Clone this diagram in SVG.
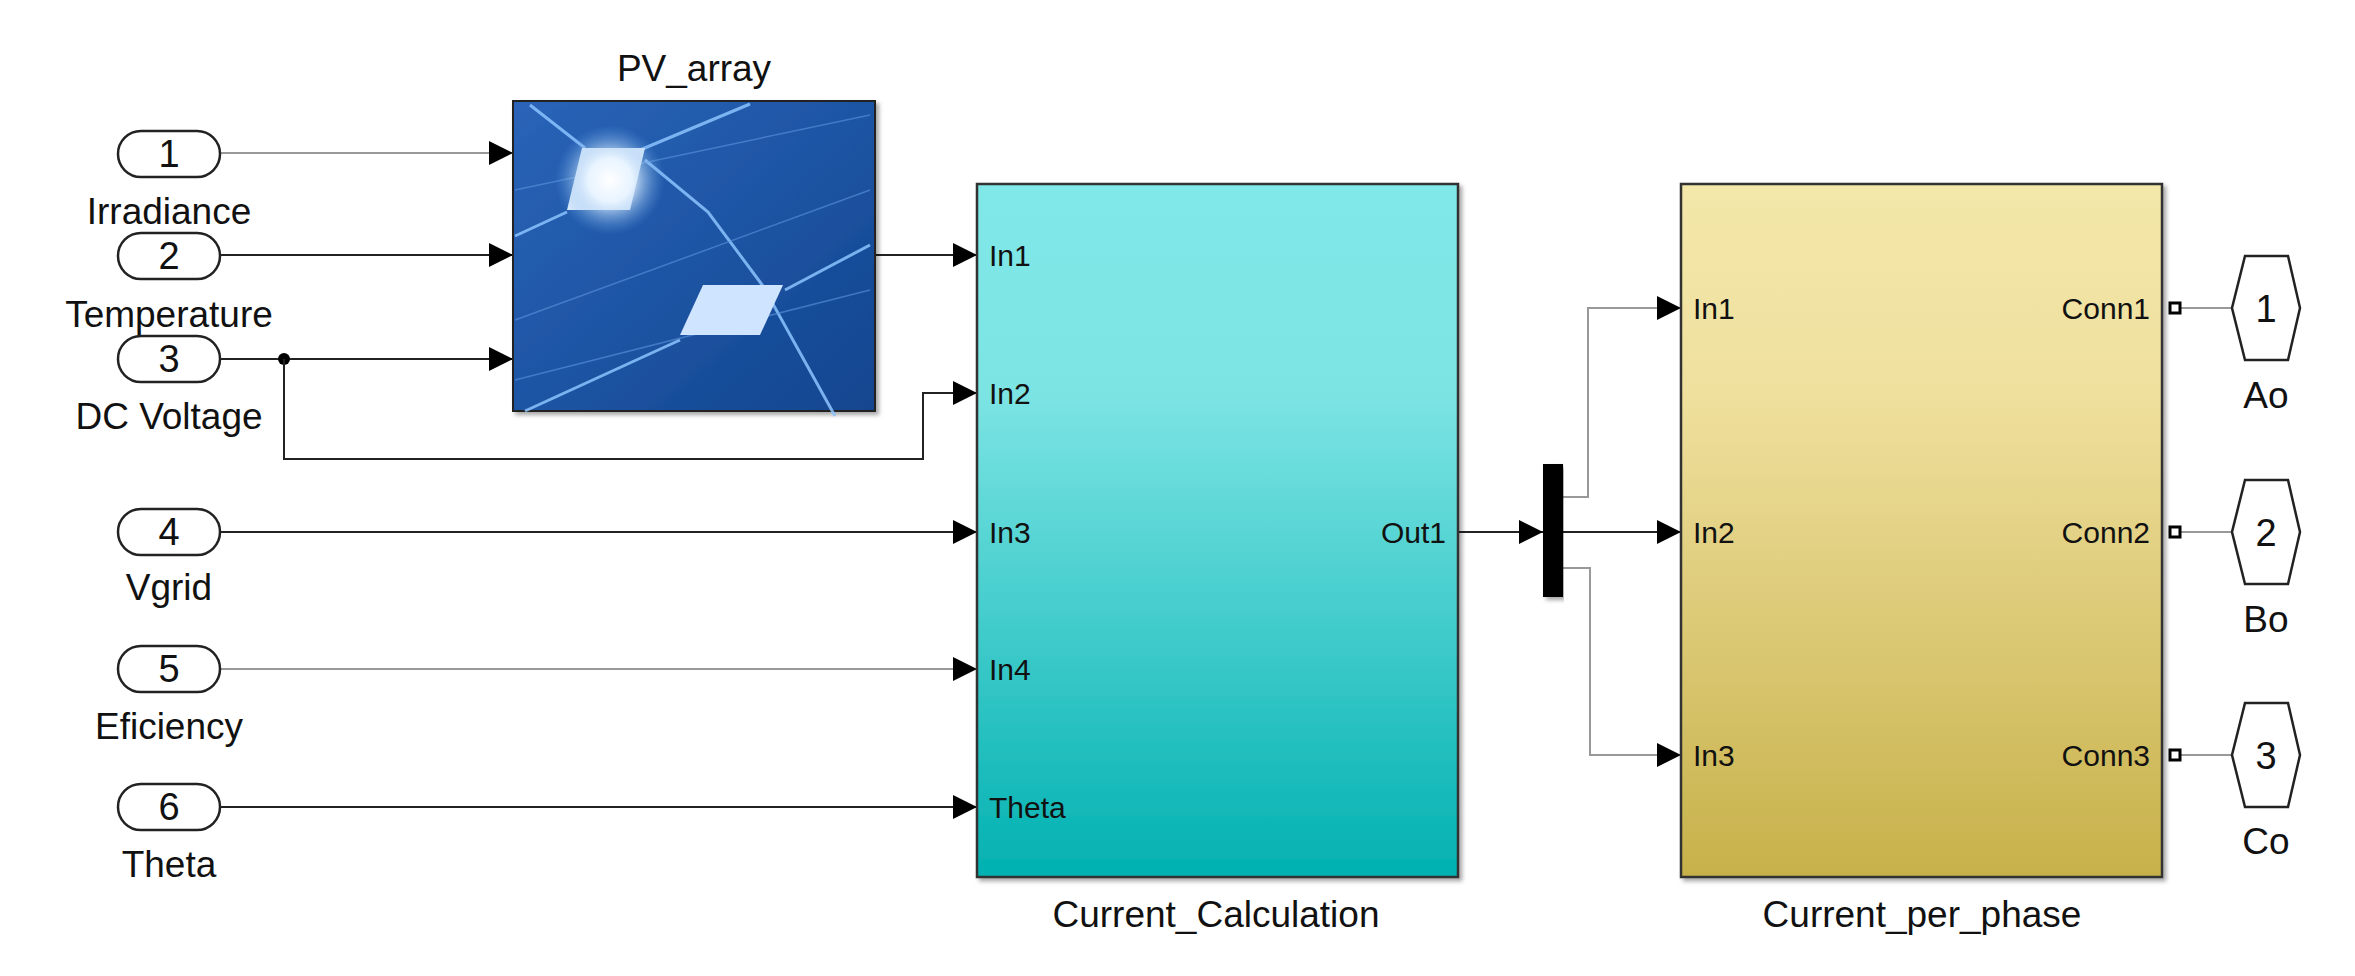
<svg xmlns="http://www.w3.org/2000/svg" width="2355" height="976" viewBox="0 0 2355 976">
<style>
text{font-family:"Liberation Sans",Arial,sans-serif;fill:#111}
.lbl{font-size:37px;text-anchor:middle}
.num{font-size:38px;text-anchor:middle}
.port{font-size:30px}
.pill{fill:#fff;stroke:#222;stroke-width:2.5}
.w{fill:none;stroke:#222;stroke-width:2}
.g{fill:none;stroke:#999;stroke-width:2}
</style>
<defs>
<marker id="a" markerWidth="10" markerHeight="10" refX="10" refY="5" orient="auto" markerUnits="userSpaceOnUse" viewBox="0 0 10 10"><path d="M0,0 L10,5 L0,10z" fill="#000"/></marker>
<marker id="A" viewBox="0 0 24 24" markerWidth="24" markerHeight="24" refX="24" refY="12" orient="auto" markerUnits="userSpaceOnUse"><path d="M0,0 L24,12 L0,24z" fill="#000"/></marker>
<linearGradient id="cc" x1="0" y1="0" x2="0" y2="1"><stop offset="0" stop-color="#80e8e8"/><stop offset="0.3" stop-color="#7de4e4"/><stop offset="1" stop-color="#02b1b1"/></linearGradient>
<linearGradient id="cp" x1="0" y1="0" x2="0" y2="1"><stop offset="0" stop-color="#f3e7a9"/><stop offset="0.3" stop-color="#efe09e"/><stop offset="1" stop-color="#c7b14a"/></linearGradient>
<linearGradient id="pv" x1="0" y1="0" x2="1" y2="1"><stop offset="0" stop-color="#2a64b8"/><stop offset="1" stop-color="#12458f"/></linearGradient>
<radialGradient id="sun"><stop offset="0" stop-color="#fff"/><stop offset="0.4" stop-color="#e8f4ff" stop-opacity="0.9"/><stop offset="1" stop-color="#5a9ae0" stop-opacity="0"/></radialGradient>
<filter id="sh" x="-5%" y="-5%" width="110%" height="110%"><feDropShadow dx="3" dy="3" stdDeviation="2" flood-color="#000" flood-opacity="0.35"/></filter>
</defs>

<g id="connectors">
<path class="g" d="M220,153 H513" marker-end="url(#A)"/>
<path class="w" d="M220,255 H513" marker-end="url(#A)"/>
<path class="w" d="M220,359 H513" marker-end="url(#A)"/>
<circle cx="284" cy="359" r="6" fill="#000"/>
<path class="w" d="M284,359 V459 H923 V393 H977" marker-end="url(#A)"/>
<path class="w" d="M875,255 H977" marker-end="url(#A)"/>
<path class="w" d="M220,532 H977" marker-end="url(#A)"/>
<path class="g" d="M220,669 H977" marker-end="url(#A)"/>
<path class="w" d="M220,807 H977" marker-end="url(#A)"/>
<path class="w" d="M1458,532 H1543" marker-end="url(#A)"/>
<path class="g" d="M1563,497 H1588 V308 H1681" marker-end="url(#A)"/>
<path class="w" d="M1563,532 H1681" marker-end="url(#A)"/>
<path class="g" d="M1563,568 H1590 V755 H1681" marker-end="url(#A)"/>
<path class="g" d="M2180,308 H2232"/>
<path class="g" d="M2180,532 H2232"/>
<path class="g" d="M2180,755 H2232"/>
</g>

<g id="in1"><rect class="pill" x="118" y="131" width="102" height="46" rx="23"/><text class="num" x="169" y="167">1</text><text class="lbl" x="169" y="224">Irradiance</text></g>
<g id="in2"><rect class="pill" x="118" y="233" width="102" height="46" rx="23"/><text class="num" x="169" y="269">2</text><text class="lbl" x="169" y="327">Temperature</text></g>
<g id="in3"><rect class="pill" x="118" y="336" width="102" height="46" rx="23"/><text class="num" x="169" y="372">3</text><text class="lbl" x="169" y="429">DC Voltage</text></g>
<g id="in4"><rect class="pill" x="118" y="509" width="102" height="46" rx="23"/><text class="num" x="169" y="545">4</text><text class="lbl" x="169" y="600">Vgrid</text></g>
<g id="in5"><rect class="pill" x="118" y="646" width="102" height="46" rx="23"/><text class="num" x="169" y="682">5</text><text class="lbl" x="169" y="739">Eficiency</text></g>
<g id="in6"><rect class="pill" x="118" y="784" width="102" height="46" rx="23"/><text class="num" x="169" y="820">6</text><text class="lbl" x="169" y="877">Theta</text></g>

<g id="pv_array">
<text class="lbl" x="694" y="81">PV_array</text>
<rect x="513" y="101" width="362" height="310" fill="url(#pv)" stroke="#222" stroke-width="2" filter="url(#sh)"/>
<g stroke="#8cc4ff" stroke-width="3" fill="none" opacity="0.85">
<path d="M530,105 L585,148"/><path d="M645,160 L708,212 L763,286 L835,416"/>
<path d="M515,236 L567,212"/><path d="M640,150 L750,104"/>
<path d="M680,340 L525,411"/><path d="M785,290 L870,245"/>
</g>
<g stroke="#5b95dd" stroke-width="1.5" opacity="0.6"><path d="M515,190 L870,115"/><path d="M515,320 L870,190"/><path d="M515,380 L870,290"/></g>
<path d="M582,148 L645,148 L630,210 L567,210z" fill="#e6f2ff"/>
<path d="M703,285 L783,285 L760,335 L680,335z" fill="#cfe4ff"/>
<circle cx="610" cy="180" r="55" fill="url(#sun)"/>
</g>

<g id="current_calculation">
<rect x="977" y="184" width="481" height="693" fill="url(#cc)" stroke="#333" stroke-width="2.5" filter="url(#sh)"/>
<text class="port" x="989" y="266">In1</text>
<text class="port" x="989" y="404">In2</text>
<text class="port" x="989" y="543">In3</text>
<text class="port" x="989" y="680">In4</text>
<text class="port" x="989" y="818">Theta</text>
<text class="port" x="1446" y="543" text-anchor="end">Out1</text>
<text class="lbl" x="1216" y="927">Current_Calculation</text>
</g>

<g id="mux"><rect x="1543" y="464" width="20" height="133" fill="#000" filter="url(#sh)"/></g>

<g id="current_per_phase">
<rect x="1681" y="184" width="481" height="693" fill="url(#cp)" stroke="#333" stroke-width="2.5" filter="url(#sh)"/>
<text class="port" x="1693" y="319">In1</text>
<text class="port" x="1693" y="543">In2</text>
<text class="port" x="1693" y="766">In3</text>
<text class="port" x="2150" y="319" text-anchor="end">Conn1</text>
<text class="port" x="2150" y="543" text-anchor="end">Conn2</text>
<text class="port" x="2150" y="766" text-anchor="end">Conn3</text>
<rect x="2170" y="303" width="10" height="10" fill="#fff" stroke="#000" stroke-width="3"/>
<rect x="2170" y="527" width="10" height="10" fill="#fff" stroke="#000" stroke-width="3"/>
<rect x="2170" y="750" width="10" height="10" fill="#fff" stroke="#000" stroke-width="3"/>
<text class="lbl" x="1922" y="927">Current_per_phase</text>
</g>

<g id="out1"><path class="pill" d="M2245,256 H2288 L2300,308 L2288,360 H2245 L2232,308z"/><text class="num" x="2266" y="322">1</text><text class="lbl" x="2266" y="408">Ao</text></g>
<g id="out2"><path class="pill" d="M2245,480 H2288 L2300,532 L2288,584 H2245 L2232,532z"/><text class="num" x="2266" y="546">2</text><text class="lbl" x="2266" y="632">Bo</text></g>
<g id="out3"><path class="pill" d="M2245,703 H2288 L2300,755 L2288,807 H2245 L2232,755z"/><text class="num" x="2266" y="769">3</text><text class="lbl" x="2266" y="854">Co</text></g>
</svg>
